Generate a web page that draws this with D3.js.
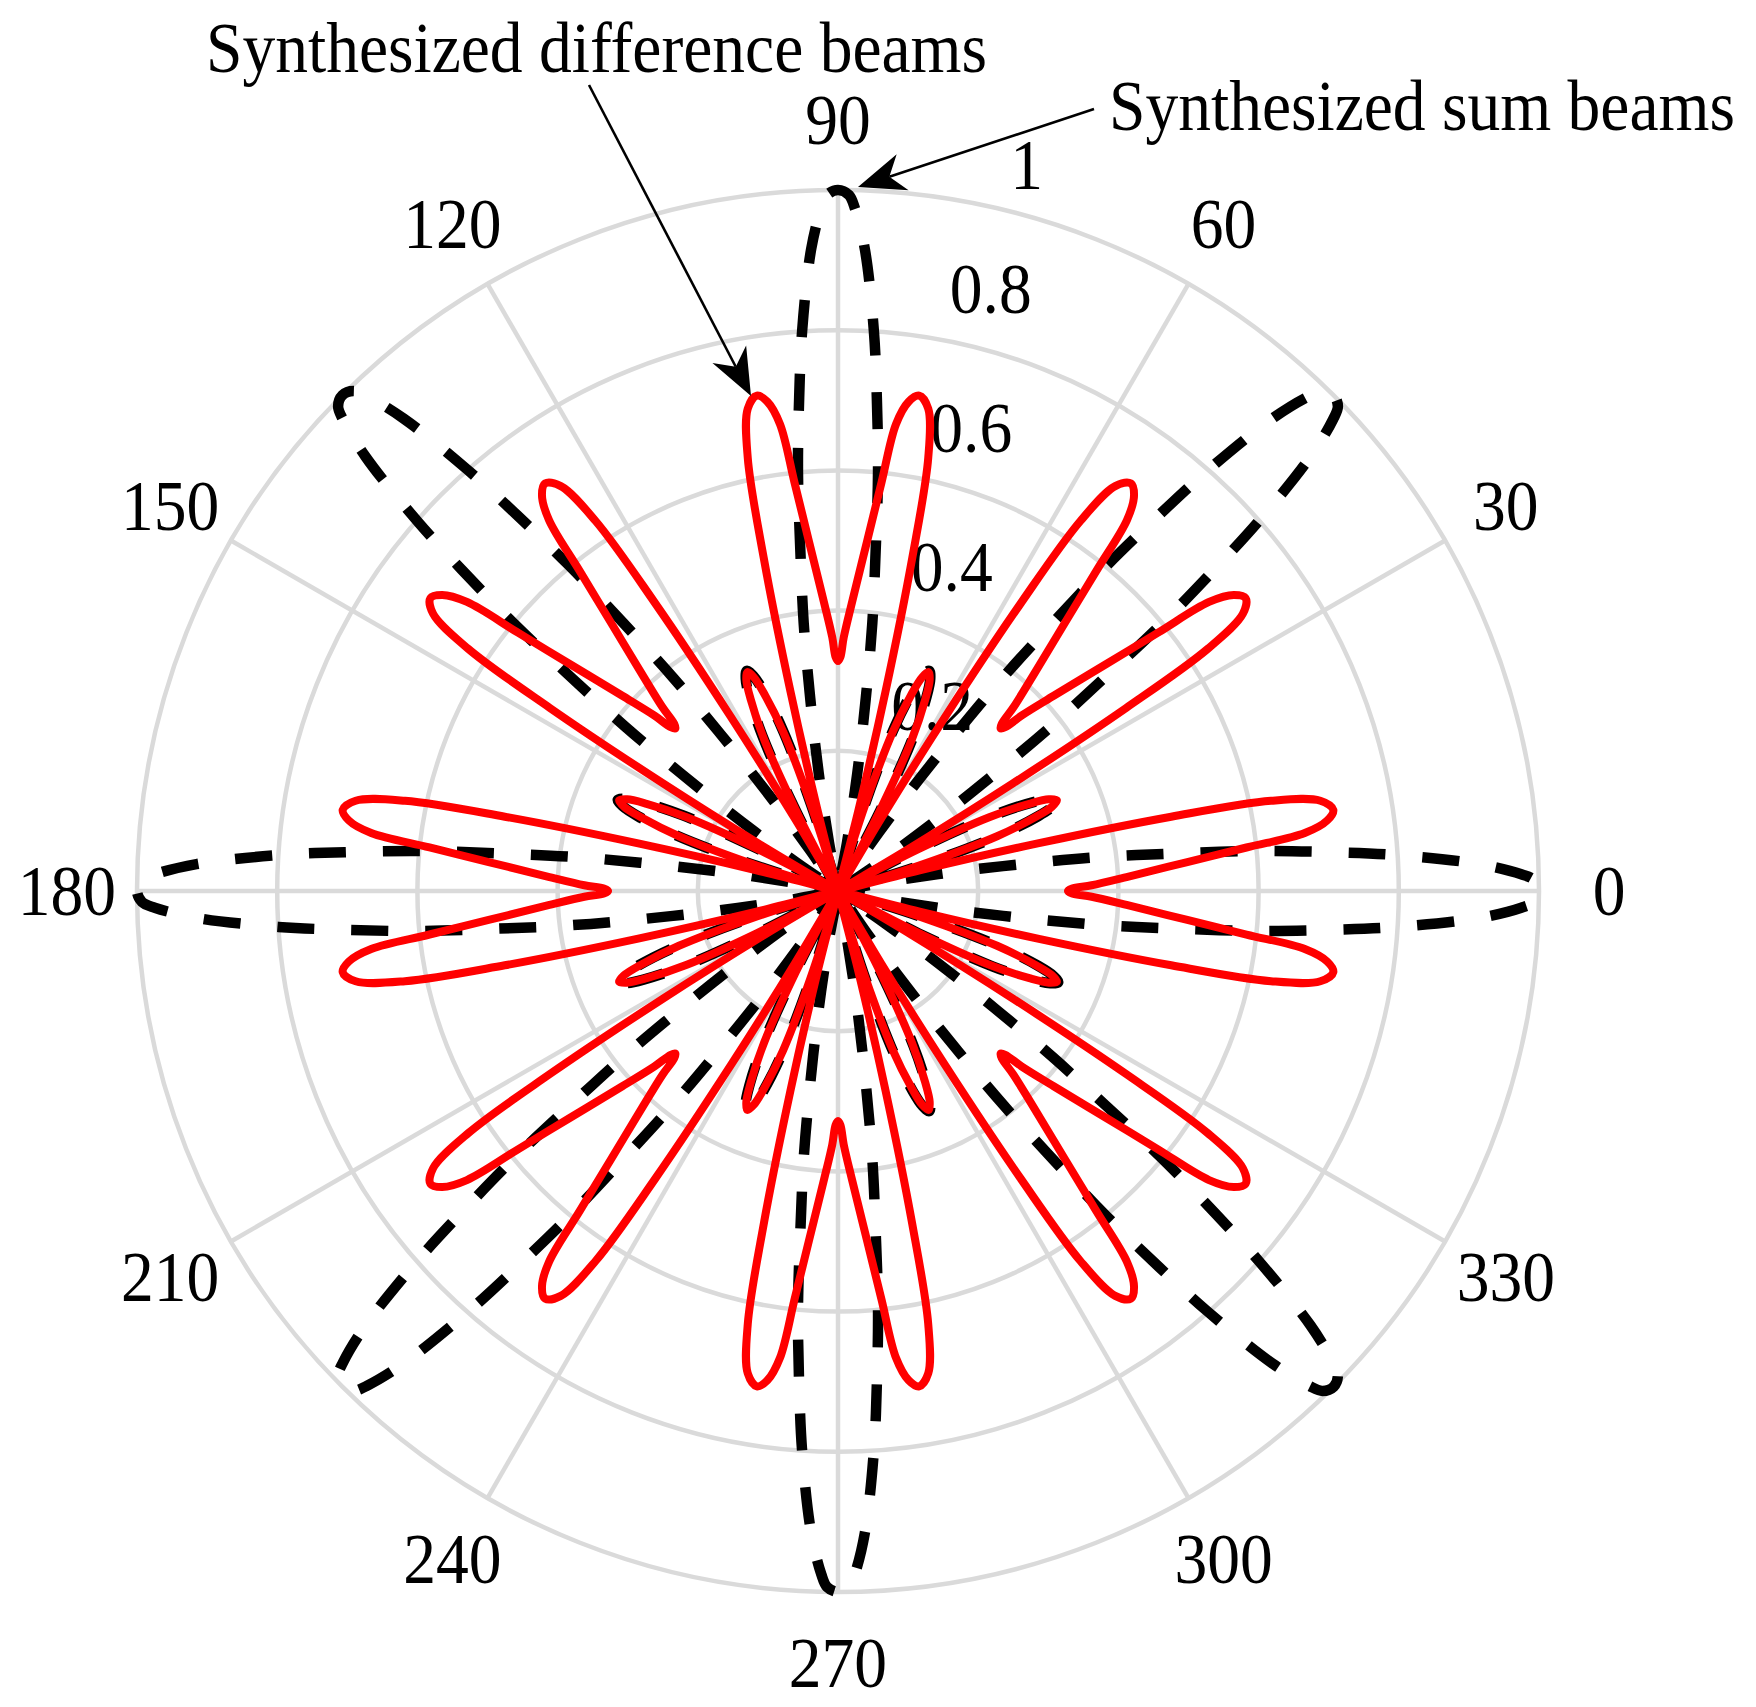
<!DOCTYPE html>
<html>
<head>
<meta charset="utf-8">
<script src="https://cdn.jsdelivr.net/npm/d3@7"></script>
<style>
  body { margin: 0; background: #fff; }
  text { font-family: "Liberation Serif", "Times New Roman", serif; fill: #000; }
</style>
</head>
<body>
<script>
// centres of the eight synthesized beams (deg)
const beamDirections = [0, 45, 90, 135, 180, 225, 270, 315]

// one 45 deg period of the sum pattern, offset from a beam centre (deg) -> magnitude
const sumOffsets = [-22.5, -21.5, -20.5, -19, -17.3, -15.8, -12, -10.5, -9.3, -8.2, -7.3, -6.3, -5.46, -4.5, -3.67, -2.4, -1.4, -0.9,
                    0, 0.9, 1.4, 2.4, 3.67, 4.5, 5.46, 6.3, 7.3, 8.2, 9.3, 10.5, 12, 15.8, 17.3, 19, 20.5, 21.5]
const sumMagnitudes = [0.34, 0.33, 0.305, 0.245, 0.13, 0.02, 0, 0.07, 0.17, 0.278, 0.385, 0.49, 0.60, 0.706, 0.80, 0.916, 0.975, 0.993,
                       1, 0.993, 0.975, 0.916, 0.80, 0.706, 0.60, 0.49, 0.385, 0.278, 0.17, 0.07, 0, 0.02, 0.13, 0.245, 0.305, 0.33]

// one period of the difference pattern
const diffOffsets = [-22.5, -21.5, -20.5, -19, -17.5, -16, -15, -14.2, -13.4, -12.57, -11.77, -10.6, -9.3, -8.2, -7.08, -6.08, -4.74, -2.85, -1.3, -0.6,
                     0, 0.6, 1.3, 2.85, 4.74, 6.08, 7.08, 8.2, 9.3, 10.6, 11.77, 12.57, 13.4, 14.2, 15, 16, 17.5, 19, 20.5, 21.5]
const diffMagnitudes = [0.338, 0.328, 0.30, 0.24, 0.13, 0.02, 0, 0.12, 0.293, 0.487, 0.631, 0.70, 0.716, 0.705, 0.671, 0.586, 0.50, 0.415, 0.362, 0.334,
                        0.328, 0.334, 0.362, 0.415, 0.50, 0.586, 0.671, 0.705, 0.716, 0.70, 0.631, 0.487, 0.293, 0.12, 0, 0.02, 0.13, 0.24, 0.30, 0.328]

const angleTicks = [0, 30, 60, 90, 120, 150, 180, 210, 240, 270, 300, 330]
const radiusTicks = [0.2, 0.4, 0.6, 0.8, 1]
const annotationLabels = ['Synthesized difference beams', 'Synthesized sum beams']

const width = 1756
const height = 1707
const cx = 838, cy = 891
const fontSize = 72
const squeeze = 0.91

const r = d3.scaleLinear().domain([0, 1]).range([0, 701])
const rad = deg => deg * Math.PI / 180
const px = (deg, v) => cx + r(v) * Math.cos(rad(deg))
const py = (deg, v) => cy - r(v) * Math.sin(rad(deg))

const svg = d3.select('body').append('svg')
    .attr('width', width)
    .attr('height', height)
    .attr('viewBox', [0, 0, width, height])

// grid
const grid = svg.append('g')
    .attr('fill', 'none')
    .attr('stroke', '#dadada')
    .attr('stroke-width', 4.5)
grid.selectAll('circle')
  .data(radiusTicks)
  .join('circle')
    .attr('cx', cx)
    .attr('cy', cy)
    .attr('r', d => r(d))
grid.selectAll('line')
  .data(angleTicks)
  .join('line')
    .attr('x1', cx)
    .attr('y1', cy)
    .attr('x2', d => px(d, 1))
    .attr('y2', d => py(d, 1))

const label = (sel) => sel
    .attr('font-size', fontSize)

// angle labels, centred at 1.1 * rmax
svg.append('g')
  .selectAll('text')
  .data(angleTicks)
  .join('text')
    .call(label)
    .attr('transform', d => `translate(${px(d, 1.1)},${py(d, 1.1)}) scale(${squeeze},1)`)
    .attr('text-anchor', 'middle')
    .attr('dy', '0.34em')
    .text(d => d)

// radius labels along the 82 deg ray, bottom aligned
svg.append('g')
  .selectAll('text')
  .data(radiusTicks)
  .join('text')
    .call(label)
    .attr('transform', d => {
        const nudge = d === 1 ? [41, 15] : [0, 0]
        return `translate(${px(82, d + 0.01) + nudge[0]},${py(82, d + 0.01) + nudge[1]}) scale(${squeeze},1)`
    })
    .attr('dx', '0.5em')
    .attr('dy', '-0.216em')
    .text(d => d)

// patterns
const pattern = (offsets, mags) => beamDirections.flatMap(dir =>
    offsets.map((o, i) => ({ theta: dir + o, value: mags[i] })))

const radial = d3.lineRadial()
    .angle(d => rad(90 - d.theta))
    .radius(d => r(d.value))
    .curve(d3.curveCatmullRomClosed.alpha(0.5))

const plot = svg.append('g')
    .attr('transform', `translate(${cx},${cy})`)
    .attr('fill', 'none')

plot.append('path')
    .attr('d', radial(pattern(sumOffsets, sumMagnitudes)))
    .attr('stroke', '#000')
    .attr('stroke-width', 10.5)
    .attr('stroke-dasharray', '37,37')

plot.append('path')
    .attr('d', radial(pattern(diffOffsets, diffMagnitudes)))
    .attr('stroke', '#ff0000')
    .attr('stroke-width', 8)
    .attr('stroke-linejoin', 'round')

// annotations
const notes = svg.append('g')

const arrow = (x1, y1, x2, y2) => {
    const a = Math.atan2(y2 - y1, x2 - x1)
    const len = 47, half = 19, notch = 33
    const c = Math.cos(a), s = Math.sin(a)
    notes.append('line')
        .attr('x1', x1).attr('y1', y1)
        .attr('x2', x2 - notch * c).attr('y2', y2 - notch * s)
        .attr('stroke', '#000')
        .attr('stroke-width', 2.6)
    const head = [
        [x2, y2],
        [x2 - len * c + half * s, y2 - len * s - half * c],
        [x2 - notch * c, y2 - notch * s],
        [x2 - len * c - half * s, y2 - len * s + half * c]
    ]
    notes.append('path')
        .attr('d', d3.line()(head) + 'Z')
        .attr('fill', '#000')
}

notes.append('text')
    .call(label)
    .attr('transform', `translate(206,72) scale(${squeeze},1)`)
    .text(annotationLabels[0])
arrow(589, 85, 751, 396)

notes.append('text')
    .call(label)
    .attr('transform', `translate(1109,130) scale(${squeeze},1)`)
    .text(annotationLabels[1])
arrow(1094, 109, 858, 187)
</script>
</body>
</html>
